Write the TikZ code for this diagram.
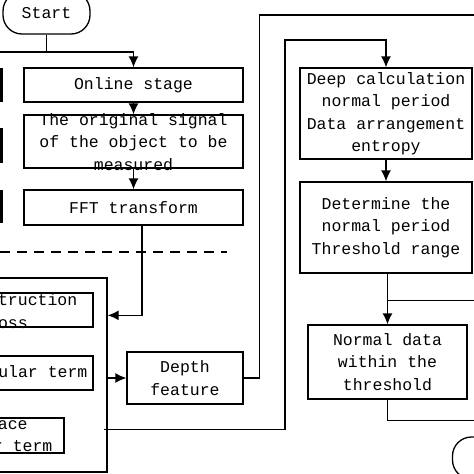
\documentclass[tikz,border=0pt]{standalone}
\usepackage{fontspec}
\setmonofont{Liberation Mono}
\usetikzlibrary{arrows.meta,calc}

\begin{document}
\begin{tikzpicture}[x=1pt,y=-1pt,>={Latex[length=11pt,width=10pt]},
  frame/.style={draw,line width=1.3pt,inner sep=0pt},
  box/.style={frame,align=center,font=\ttfamily\fontsize{16.5}{22.5}\selectfont},
  txt/.style={align=center,inner sep=0pt,font=\ttfamily\fontsize{16.5}{22.5}\selectfont},
  term/.style={box,rounded corners=19pt,minimum width=87pt,minimum height=42pt},
  line/.style={line width=1.3pt}]
\useasboundingbox (0,0) rectangle (474,474);
\clip (0,0) rectangle (474,474);
% offline column, only its right edges are seen
\foreach \ya/\yb in {68/102,128/163,190/223}
  \draw[line width=3pt] (1.2,\ya) -- (1.2,\yb);
% online column
\node[term] (start) at (46.5,13) {Start};
\node[box,minimum width=219pt,minimum height=34pt] (online) at (133.5,85) {Online stage};
\node[frame,minimum width=219pt,minimum height=53pt] (sig) at (133.5,141.5) {};
\node[txt] (sigtext) at (133.5,142) {The original signal\\of the object to be\\measured};
\node[box,minimum width=219pt,minimum height=35pt] (fft) at (133.5,207.5) {FFT transform};
\draw[line,dash pattern=on 10pt off 7pt] (0,252) -- (227,252);
% model
\node[frame,minimum width=207pt,minimum height=194pt] (big) at (3.5,375) {};
\node[frame,minimum width=170pt,minimum height=34pt] (recon) at (8,310) {};
\node[txt] (recontext) at (8,311) {Reconstruction\\loss};
\node[box,minimum width=130pt,minimum height=34pt] (regular) at (28,373) {Regular term};
\node[frame,minimum width=142pt,minimum height=35pt] (lap) at (-7,435.5) {};
\node[txt] (laptext) at (-7,436) {Laplace\\regular term};
\node[box,minimum width=116pt,minimum height=52pt] (depth) at (185,378) {Depth\\feature};
% threshold column
\node[box,minimum width=172pt,minimum height=91pt] (deep) at (386,113.5) {Deep calculation\\normal period\\Data arrangement\\entropy};
\node[box,minimum width=172pt,minimum height=91pt] (det) at (386,227.5) {Determine the\\normal period\\Threshold range};
\node[box,minimum width=159pt,minimum height=74pt] (normal) at (387.5,362) {Normal data\\within the\\threshold};
\node[term] (end) at (496,458) {};
\coordinate (lfeed) at (-5,52);
\coordinate (split) at (133.5,52);
\coordinate (loopb) at (285,40);
\coordinate (outerend) at (490,15);
% connectors
\draw[line] (start.south) -- (start.south |- split);
\draw[line,->] (lfeed) -- (split) -- (online.north);
\draw[line,->] (online) -- (sig);
\draw[line,->] (sig) -- (fft);
\draw[line,->] ($(fft.south)+(8.5,0)$) |- ($(big.north east)+(0,38)$);
\draw[line,->] (big.east |- depth.west) -- (depth.west);
\draw[line] (depth.east) -- ++(16,0) |- (outerend);
\draw[line,->] ($(big.south east)+(-4,-43)$) -| (loopb) -| (deep.north);
\draw[line,->] (deep) -- (det);
\draw[line,->] (normal.north |- det.south) -- (normal.north);
\draw[line] ($(normal.north)+(0,-24)$) -- ++(100,0);
\draw[line] (normal.south) -- ++(0,21) -- ++(100,0);
\end{tikzpicture}
\end{document}
